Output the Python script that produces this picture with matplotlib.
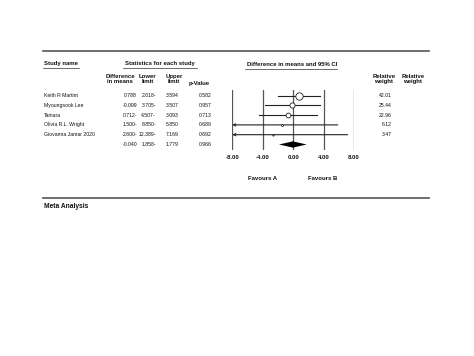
import matplotlib
matplotlib.use("Agg")
import matplotlib.pyplot as plt
import numpy as np

# ---- data (as displayed in the reference) ----
studies = ["Keith R Martint", "Myoungsook Lee", "Tamara", "Olivia R.L. Wright", "Giovanna Jamar 2020"]
diff_txt = ["0.788", "-0.099", "0.712-", "1.500-", "2.600-", "-0.040"]
lower_txt = ["2.018-", "3.705-", "4.507-", "8.850-", "12.389-", "1.858-"]
upper_txt = ["3.594", "3.507", "3.093", "5.850", "7.169", "1.779"]
pval_txt = ["0.582", "0.957", "0.713", "0.689", "0.692", "0.966"]
weights = [42.01, 25.44, 22.96, 6.12, 3.47]
weight_txt = ["42.01", "25.44", "22.96", "6.12", "3.47"]
xticks = [-8, -4, 0, 4, 8]
xtick_labels = ["-8.00", "-4.00", "0.00", "4.00", "8.00"]


def parse(s):
    s = s.strip()
    if s.endswith("-"):
        return -float(s[:-1])
    return float(s)


diff = np.array([parse(s) for s in diff_txt])
lower = np.array([parse(s) for s in lower_txt])
upper = np.array([parse(s) for s in upper_txt])

W, H = 474, 356
fig = plt.figure(figsize=(W / 100, H / 100), dpi=100)
fig.patch.set_facecolor("white")

# overlay axes in pixel coordinates for the table text
ax0 = fig.add_axes([0, 0, 1, 1])
ax0.set_xlim(0, W)
ax0.set_ylim(H, 0)
ax0.axis("off")

SANS = ["Liberation Sans", "DejaVu Sans"]
NARROW = ["Liberation Sans Narrow", "Liberation Sans", "DejaVu Sans"]
hfs = 4.3
vfs = 3.7
tc = "#111111"

# rules
ax0.plot([43, 429], [50.5, 50.5], color="#555555", lw=1.2)
ax0.plot([43, 429], [197.5, 197.5], color="#555555", lw=1.2)

# section headers
ax0.text(44, 64, "Study name", fontsize=hfs, fontweight="bold", family=SANS, ha="left", va="center", color=tc)
ax0.plot([43, 79], [67.5, 67.5], color="#333333", lw=0.5)
ax0.text(160, 64, "Statistics for each study", fontsize=hfs, fontweight="bold", family=SANS, ha="center", va="center", color=tc)
ax0.plot([123, 197], [67.5, 67.5], color="#333333", lw=0.5)
ax0.text(292, 64, "Difference in means and 95% CI", fontsize=hfs, fontweight="bold", family=SANS, ha="center", va="center", color=tc)
ax0.plot([245, 337], [68.5, 68.5], color="#333333", lw=0.5)

# column headers
col_hdr = [(120, "Difference\nin means"), (148, "Lower\nlimit"), (174, "Upper\nlimit"),
           (384, "Relative\nweight"), (413, "Relative\nweight")]
for x, t in col_hdr:
    ax0.text(x, 79, t, fontsize=hfs, fontweight="bold", family=SANS, ha="center", va="center",
             color=tc, linespacing=1.1)
ax0.text(199, 83, "p-Value", fontsize=hfs, fontweight="bold", family=SANS, ha="center", va="center", color=tc)

row_y0, row_dy = 95.5, 9.8
for i in range(6):
    y = row_y0 + i * row_dy
    if i < len(studies):
        ax0.text(44, y, studies[i], fontsize=vfs, family=NARROW, ha="left", va="center", color=tc)
        ax0.text(392, y, weight_txt[i], fontsize=vfs, family=NARROW, ha="right", va="center", color=tc)
    ax0.text(137, y, diff_txt[i], fontsize=vfs, family=NARROW, ha="right", va="center", color=tc)
    ax0.text(156, y, lower_txt[i], fontsize=vfs, family=NARROW, ha="right", va="center", color=tc)
    ax0.text(179, y, upper_txt[i], fontsize=vfs, family=NARROW, ha="right", va="center", color=tc)
    ax0.text(212, y, pval_txt[i], fontsize=vfs, family=NARROW, ha="right", va="center", color=tc)

ax0.text(263, 178, "Favours A", fontsize=hfs, fontweight="bold", family=SANS, ha="center", va="center", color=tc)
ax0.text(323, 178, "Favours B", fontsize=hfs, fontweight="bold", family=SANS, ha="center", va="center", color=tc)
ax0.text(44, 207, "Meta Analysis", fontsize=4.8, fontweight="bold", family=SANS, ha="left", va="center", color=tc)

# ---- forest plot axes ----
px_left, px_right = 232.3, 354.0
px_top, px_bot = 89.5, 149.5
fax = fig.add_axes([px_left / W, 1 - px_bot / H, (px_right - px_left) / W, (px_bot - px_top) / H])
fax.set_xlim(-8, 8)
y_top = (px_top - row_y0) / row_dy
y_bot = (px_bot - row_y0) / row_dy
fax.set_ylim(y_bot, y_top)
fax.patch.set_alpha(0)
for s in fax.spines.values():
    s.set_visible(False)
fax.set_yticks([])
fax.set_xticks(xticks)
fax.set_xticklabels(xtick_labels, fontsize=hfs, fontweight="bold", family=SANS, color=tc)
fax.tick_params(axis="x", length=0, pad=4)
for xt in xticks:
    fax.axvline(xt, color="#555555", lw=0.9, zorder=1)

xmin, xmax = -8, 8
for i in range(len(studies)):
    lo, hi = lower[i], upper[i]
    if lo < xmin:
        fax.annotate("", xy=(xmin, i), xytext=(min(hi, xmax), i),
                     arrowprops=dict(arrowstyle="->", lw=0.8, color="#222222", mutation_scale=4,
                                     shrinkA=0, shrinkB=0), zorder=2)
    else:
        fax.plot([lo, min(hi, xmax)], [i, i], color="#222222", lw=0.8, zorder=2)
    ms = 5.3 * (weights[i] / max(weights)) ** 0.7
    fax.plot(diff[i], i, "o", ms=ms, mfc="white", mec="#222222", mew=0.6, zorder=3)

# summary diamond
k = len(studies)
dh = 0.32
fax.fill([lower[k], diff[k], upper[k], diff[k]], [k, k - dh, k, k + dh], color="black", zorder=3, lw=0)

fig.savefig("out.png", dpi=100, facecolor="white")
